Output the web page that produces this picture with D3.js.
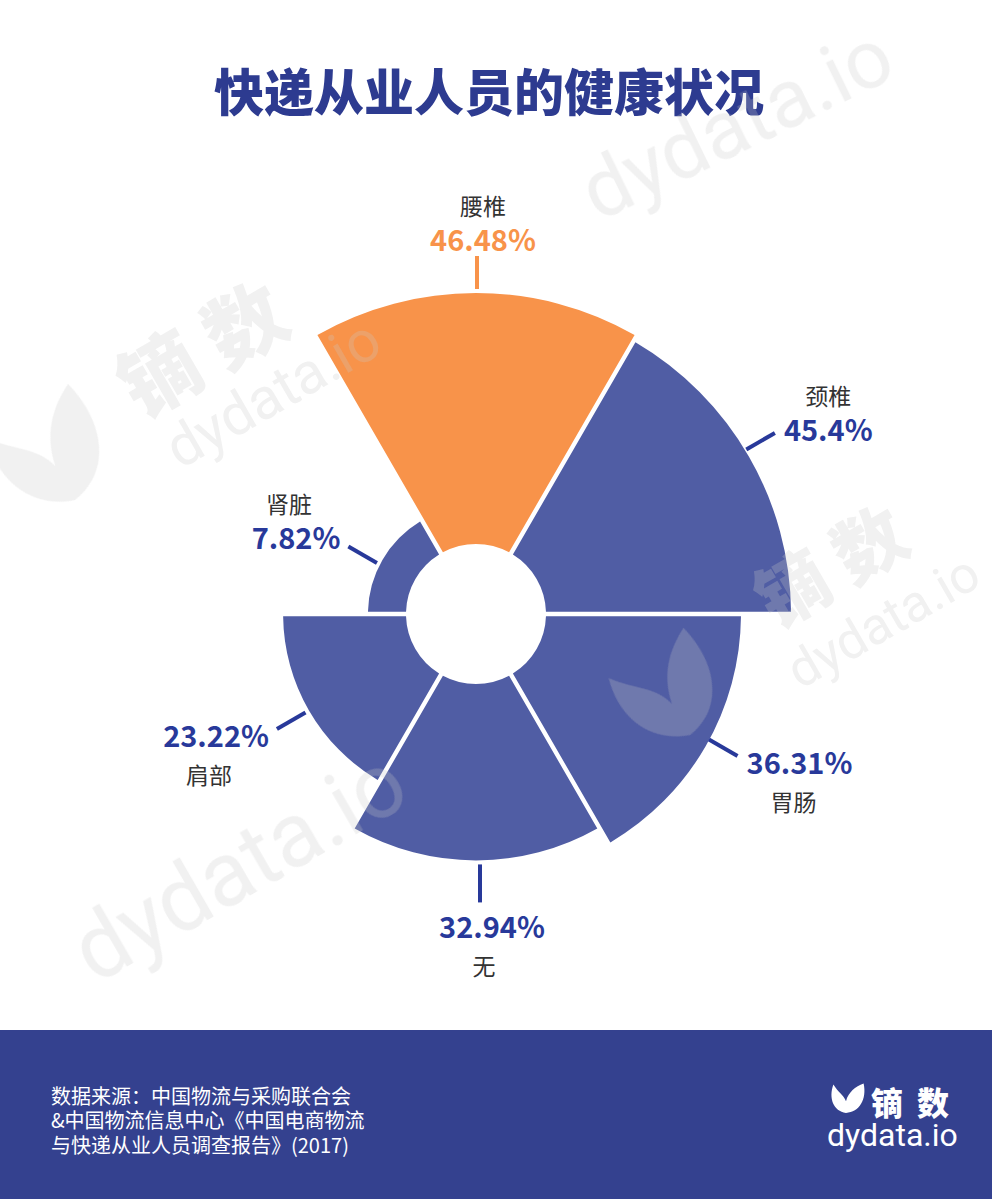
<!DOCTYPE html>
<html><head><meta charset="utf-8">
<script src="https://cdn.jsdelivr.net/npm/d3@7"></script>
<style>
html,body{margin:0;padding:0;background:#fff;}
svg{display:block;font-family:"Noto Sans CJK SC","Noto Sans",sans-serif;}
</style></head>
<body><svg id="c" width="992" height="1199"></svg>
<script>
const categories = ["腰椎","颈椎","胃肠","无","肩部","肾脏"];
const values = [46.48, 45.4, 36.31, 32.94, 23.22, 7.82];
const valueLabels = ["46.48%","45.4%","36.31%","32.94%","23.22%","7.82%"];
const highlight = "腰椎";
const title = "快递从业人员的健康状况";
const sourceLines = ["数据来源：中国物流与采购联合会","&中国物流信息中心《中国电商物流","与快递从业人员调查报告》(2017)"];

const svg = d3.select("#c");
const W = 992, H = 1199;
const cx = 476, cy = 614;
const ORANGE = "#f8934a", BLUE = "#505da4", DARK = "#28399a";

// title
svg.append("text").attr("x", 489).attr("y", 111).attr("text-anchor","middle")
  .attr("font-size", 50).attr("font-weight", 900).attr("fill", "#2d3b90")
  .text(title);

const g = svg.append("g").attr("transform", `translate(${cx},${cy})`);
const step = 2*Math.PI/categories.length;
const r = d3.scaleLinear().domain([0, d3.max(values)]).range([65, 321]);
const data = categories.map((c,i)=>({cat:c, value:values[i], label:valueLabels[i],
  start: i*step - step/2, end: i*step + step/2}));

const arc = d3.arc().innerRadius(70).outerRadius(d=>r(d.value))
  .startAngle(d=>d.start).endAngle(d=>d.end).padAngle(0.022).padRadius(200);

g.selectAll("path.s").data(data).join("path").attr("class","s")
  .attr("d", arc).attr("fill", d=>d.cat===highlight?ORANGE:BLUE);

// small per-direction nudges of the label callouts
function nudge(sx, sy) {
  if (Math.abs(sx) < 0.1) return sy < 0 ? [1, 0, 0] : [4, 0, 5];
  if (sx > 0) return sy < 0 ? [-6, -5, 0] : [0, -9, 0];
  return sy < 0 ? [-2, 5, 0] : [0, 0, 0];
}

data.forEach(d=>{
  const a = (d.start+d.end)/2;
  const sx = Math.sin(a), sy = -Math.cos(a);
  const [nx, ny, extra] = nudge(sx, sy);
  const r0 = r(d.value)+4, r1 = r(d.value)+37+extra;
  const col = d.cat===highlight?ORANGE:DARK;
  const x1 = sx*r1+nx, y1 = sy*r1+ny;
  g.append("line").attr("x1", sx*r0+nx).attr("y1", sy*r0+ny).attr("x2", x1).attr("y2", y1)
    .attr("stroke", col).attr("stroke-width", 4);
  const vt = g.append("text").attr("font-size", 29).attr("font-weight", 700)
    .attr("fill", col).attr("dominant-baseline","central").text(d.label);
  const w = vt.node().getComputedTextLength();
  let vx, vy, cdx;
  if (Math.abs(sx) < 0.1) { vx = x1 + (sy<0?6:12); vy = sy < 0 ? y1 - 18 : y1 + 23; cdx = sy<0?0:-8; }
  else if (sx > 0) { vx = x1 + 9 + w/2; vy = y1 + (sy<0 ? -5 : 5); cdx = sy<0?0:-6; }
  else { vx = x1 - 8 - w/2; vy = y1 + (sy<0 ? -10 : 5); cdx = -7; }
  vt.attr("x", vx).attr("y", vy).attr("text-anchor","middle");
  const upper = sy < 0;
  g.append("text").attr("x", vx + cdx).attr("y", vy + (upper ? -33 : 40))
    .attr("text-anchor","middle").attr("dominant-baseline","central")
    .attr("font-size", 23).attr("fill", "#333").text(d.cat);
});

// watermarks (faint, on top)
const wm = svg.append("g").attr("fill", "#c8c8c8").attr("opacity", 0.26)
  .attr("font-family", "Roboto, 'Noto Sans', sans-serif");
function leaf(x, y, s) {
  wm.append("path").attr("transform", `translate(${x},${y}) scale(${s}) rotate(-30)`)
    .attr("d", "M0,0 C-30,-10 -45,-40 -35,-75 C-20,-55 -5,-50 0,-30 C5,-55 20,-70 40,-80 C50,-40 35,-5 0,0 Z");
}
wm.append("text").attr("transform","translate(598,222) rotate(-26)").attr("font-size", 82).text("dydata.io");
wm.append("text").attr("transform","translate(140,420) rotate(-30)").attr("font-size", 80).attr("font-weight",900)
  .attr("font-family","'Noto Sans CJK SC'").text("镝 数");
wm.append("text").attr("transform","translate(180,470) rotate(-30)").attr("font-size", 58).text("dydata.io");
leaf(75, 500, 1.3);
wm.append("text").attr("transform","translate(775,630) rotate(-30)").attr("font-size", 72).attr("font-weight",900)
  .attr("font-family","'Noto Sans CJK SC'").text("镝 数");
wm.append("text").attr("transform","translate(800,690) rotate(-30)").attr("font-size", 52).text("dydata.io");
leaf(690, 735, 1.2);
wm.append("text").attr("transform","translate(95,985) rotate(-30)").attr("font-size", 90).text("dydata.io");

// footer
svg.append("rect").attr("x",0).attr("y",1030).attr("width",W).attr("height",H-1030).attr("fill","#34418f");
const src = svg.append("text").attr("font-size", 20).attr("fill", "#fff");
sourceLines.forEach((t,i)=>{
  src.append("tspan").attr("x", 51).attr("y", 1104 + i*24.3).text(t);
});
svg.append("path").attr("transform","translate(846,1113) scale(0.42)").attr("fill","#fff")
  .attr("d","M0,0 C-30,-5 -42,-35 -30,-68 C-18,-48 -6,-44 0,-28 C6,-50 22,-62 42,-70 C50,-32 32,-2 0,0 Z");
const logo = svg.append("text").attr("fill","#fff").attr("font-size", 32);
logo.append("tspan").attr("x", 871).attr("y", 1115).attr("font-weight", 900)
  .attr("letter-spacing", 14).text("镝数");
logo.append("tspan").attr("x", 827).attr("y", 1146)
  .attr("font-family","Roboto, 'Noto Sans', sans-serif").attr("letter-spacing", 0).text("dydata.io");
</script></body></html>
